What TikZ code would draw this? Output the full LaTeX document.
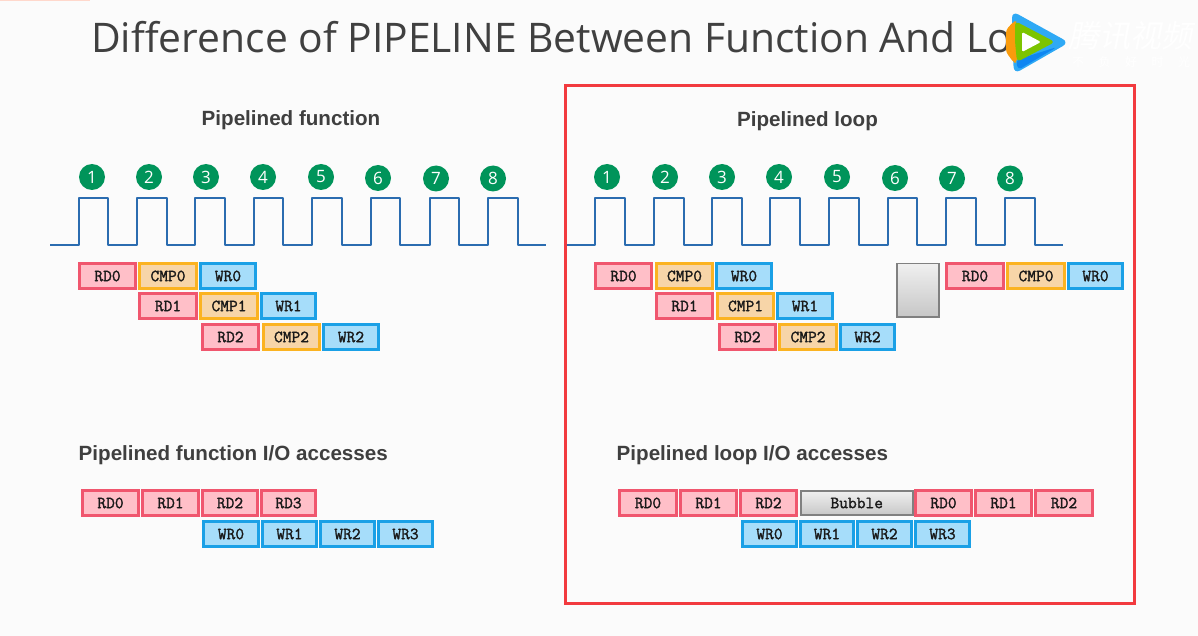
\documentclass[tikz,border=0pt]{standalone}
\usepackage{fontspec}
\setmainfont{Open Sans}
\newfontfamily\headfont{Liberation Sans}
\newfontfamily\cjkfont{Noto Sans CJK SC}
\newfontfamily\boxfont[FakeBold=1.6]{Latin Modern Mono}
\usetikzlibrary{shadows}
\definecolor{pagebg}{HTML}{FBFBFB}
\definecolor{titlec}{HTML}{404040}
\definecolor{headc}{HTML}{3F3F3F}
\definecolor{clockc}{HTML}{2B6CB0}
\definecolor{tickc}{HTML}{00945A}
\definecolor{rdfill}{HTML}{FFBFC8}
\definecolor{rdline}{HTML}{F0566E}
\definecolor{cmpfill}{HTML}{F7D5A8}
\definecolor{cmpline}{HTML}{FBB321}
\definecolor{wrfill}{HTML}{A6DDFA}
\definecolor{wrline}{HTML}{1AA0E6}
\definecolor{frameRed}{HTML}{F23A3F}
\definecolor{stripec}{HTML}{FFD8CC}
\definecolor{logoOrange}{HTML}{F99B0C}
\definecolor{logoBlue}{HTML}{2FA9F5}
\definecolor{logoDeep}{HTML}{0E86F2}
\definecolor{logoGreen}{HTML}{7CC400}
\tikzset{
  x=1pt,y=-1pt,
  cell/.style={draw,line width=2.8pt,inner sep=0pt,font=\boxfont\fontsize{17}{17}\selectfont,text=black!90},
  rdcell/.style={cell,fill=rdfill,draw=rdline},
  cmpcell/.style={cell,fill=cmpfill,draw=cmpline},
  wrcell/.style={cell,fill=wrfill,draw=wrline},
  graycell/.style={cell,draw=black!50,line width=1.8pt,top color=black!6,bottom color=black!22,drop shadow={shadow xshift=0.6pt,shadow yshift=-1pt,opacity=0.3}},
  tick/.style={circle,fill=tickc,text=white,minimum size=26pt,inner sep=0pt,font=\fontsize{17}{17}\selectfont},
  clockline/.style={draw=clockc,line width=2pt,line join=round},
  heading/.style={inner sep=0pt,font=\headfont\bfseries\fontsize{20.6}{20.6}\selectfont,text=headc},
}
% name, x0, y0, x1, y1, style, text
\newcommand{\cellbox}[7]{%
  \pgfmathsetmacro{\cellw}{#4-#2-2.8}\pgfmathsetmacro{\cellh}{#5-#3-2.8}%
  \node[#6,minimum width=\cellw pt,minimum height=\cellh pt] (#1) at ({(#2+#4)/2},{(#3+#5)/2}) {#7};}
\newcommand{\clockwave}[2]{% shift, end
  \draw[clockline,xshift=#1pt] (50,245)
   \foreach \r/\f in {78.5/108,137/167,195/225,253.5/283,312/342,371/400,429.5/459,488/518}{ -- (\r,245) -- (\r,198) -- (\f,198) -- (\f,245)} -- (#2,245);}
\begin{document}
\begin{tikzpicture}
\useasboundingbox (0,0) rectangle (1198,636);
\fill[pagebg] (0,0) rectangle (1198,636);
\fill[stripec] (0,0) rectangle (90,1.5);
% title
\node[anchor=base west,inner sep=0pt,text=titlec,font=\fontsize{40.8}{40.8}\selectfont] (title) at (91,53) {Difference of PIPELINE Between Function And Lo};
% frame
\node[draw=frameRed,line width=3pt,minimum width=569pt,minimum height=518pt,inner sep=0pt] (frame) at (850,344.5) {};
% headings
\node[heading] (h1) at (291,120) {Pipelined function};
\node[heading] (h2) at (807.5,121) {Pipelined loop};
\node[heading,anchor=west] (h3) at (78.5,455) {Pipelined function I/O accesses};
\node[heading,anchor=west] (h4) at (616.5,455) {Pipelined loop I/O accesses};
% clocks
\clockwave{0}{546}
\clockwave{516.5}{546}
% ticks
\foreach \n/\x/\y in {1/92/177,2/149/177,3/206/177,4/263/177,5/321/177,6/378/178,7/436/178.5,8/493/178.5}{
  \node[tick] (la\n) at (\x,\y) {\n};}
\foreach \n/\x/\y in {1/607/177,2/665/177,3/722/177,4/779/177,5/837/177,6/895/178,7/952/178.5,8/1010/178.5}{
  \node[tick] (ra\n) at (\x,\y) {\n};}
% left pipeline
\cellbox{a1}{78}{262}{137}{290}{rdcell}{RD0}
\cellbox{a2}{138}{262}{198}{290}{cmpcell}{CMP0}
\cellbox{a3}{199}{262}{257}{290}{wrcell}{WR0}
\cellbox{a4}{138}{292}{198}{320}{rdcell}{RD1}
\cellbox{a5}{199}{292}{259}{320}{cmpcell}{CMP1}
\cellbox{a6}{260}{292}{317}{320}{wrcell}{WR1}
\cellbox{a7}{201}{323}{260}{351}{rdcell}{RD2}
\cellbox{a8}{262}{323}{321}{351}{cmpcell}{CMP2}
\cellbox{a9}{322}{323}{380}{351}{wrcell}{WR2}
% right pipeline
\cellbox{b1}{594}{262}{653}{290}{rdcell}{RD0}
\cellbox{b2}{655}{262}{714}{290}{cmpcell}{CMP0}
\cellbox{b3}{715}{262}{773}{290}{wrcell}{WR0}
\cellbox{b4}{655}{292}{714}{320}{rdcell}{RD1}
\cellbox{b5}{716}{292}{775}{320}{cmpcell}{CMP1}
\cellbox{b6}{776}{292}{834}{320}{wrcell}{WR1}
\cellbox{b7}{718}{323}{777}{351}{rdcell}{RD2}
\cellbox{b8}{778}{323}{838}{351}{cmpcell}{CMP2}
\cellbox{b9}{839}{323}{896}{351}{wrcell}{WR2}
\cellbox{bg}{895.5}{262}{940}{318}{graycell}{}
\cellbox{c1}{945}{262}{1005}{290}{rdcell}{RD0}
\cellbox{c2}{1006}{262}{1066}{290}{cmpcell}{CMP0}
\cellbox{c3}{1067}{262}{1124}{290}{wrcell}{WR0}
% left I/O
\cellbox{d1}{81}{489}{140}{517}{rdcell}{RD0}
\cellbox{d2}{141}{489}{200}{517}{rdcell}{RD1}
\cellbox{d3}{201}{489}{259}{517}{rdcell}{RD2}
\cellbox{d4}{260}{489}{317}{517}{rdcell}{RD3}
\cellbox{e1}{202}{520}{260}{548}{wrcell}{WR0}
\cellbox{e2}{261}{520}{318}{548}{wrcell}{WR1}
\cellbox{e3}{319}{520}{376}{548}{wrcell}{WR2}
\cellbox{e4}{377}{520}{434}{548}{wrcell}{WR3}
% right I/O
\cellbox{f1}{618}{489}{678}{517}{rdcell}{RD0}
\cellbox{f2}{679}{489}{738}{517}{rdcell}{RD1}
\cellbox{f3}{739}{489}{798}{517}{rdcell}{RD2}
\cellbox{fb}{799.5}{489.5}{914}{516.5}{graycell}{Bubble}
\cellbox{f4}{914}{489}{973}{517}{rdcell}{RD0}
\cellbox{f5}{974}{489}{1033}{517}{rdcell}{RD1}
\cellbox{f6}{1034}{489}{1094}{517}{rdcell}{RD2}
\cellbox{g1}{741}{520}{798}{548}{wrcell}{WR0}
\cellbox{g2}{799}{520}{855}{548}{wrcell}{WR1}
\cellbox{g3}{856}{520}{913}{548}{wrcell}{WR2}
\cellbox{g4}{914}{520}{971}{548}{wrcell}{WR3}
% logo
\fill[logoBlue,rounded corners=7pt] (1012,11) -- (1069,42.5) -- (1014,74) -- (1012,42) -- cycle;
\fill[logoDeep,rounded corners=4pt] (1016,60) -- (1057,47) -- (1018,70) -- cycle;
\fill[logoOrange,rounded corners=3pt] (1014,21) -- (1006,30) -- (1006,52) -- (1014,63) -- (1017,62) -- (1017,22) -- cycle;
\fill[logoGreen,rounded corners=4pt] (1015,21) -- (1055,42) -- (1017,62) -- (1015,42) -- cycle;
\fill[white,rounded corners=1.5pt] (1022,32) -- (1041,42) -- (1022,52) -- cycle;
\node[inner sep=0pt,text=white,font=\cjkfont\fontsize{31}{31}\selectfont,xslant=0.2] (wm) at (1133,36) {腾讯视频};
\node[inner sep=0pt,text=white,font=\cjkfont\fontsize{12}{12}\selectfont] (wm2) at (1131,62) {不\hspace{14.5pt}负\hspace{14.5pt}好\hspace{14.5pt}时\hspace{14.5pt}光};
\end{tikzpicture}
\end{document}
